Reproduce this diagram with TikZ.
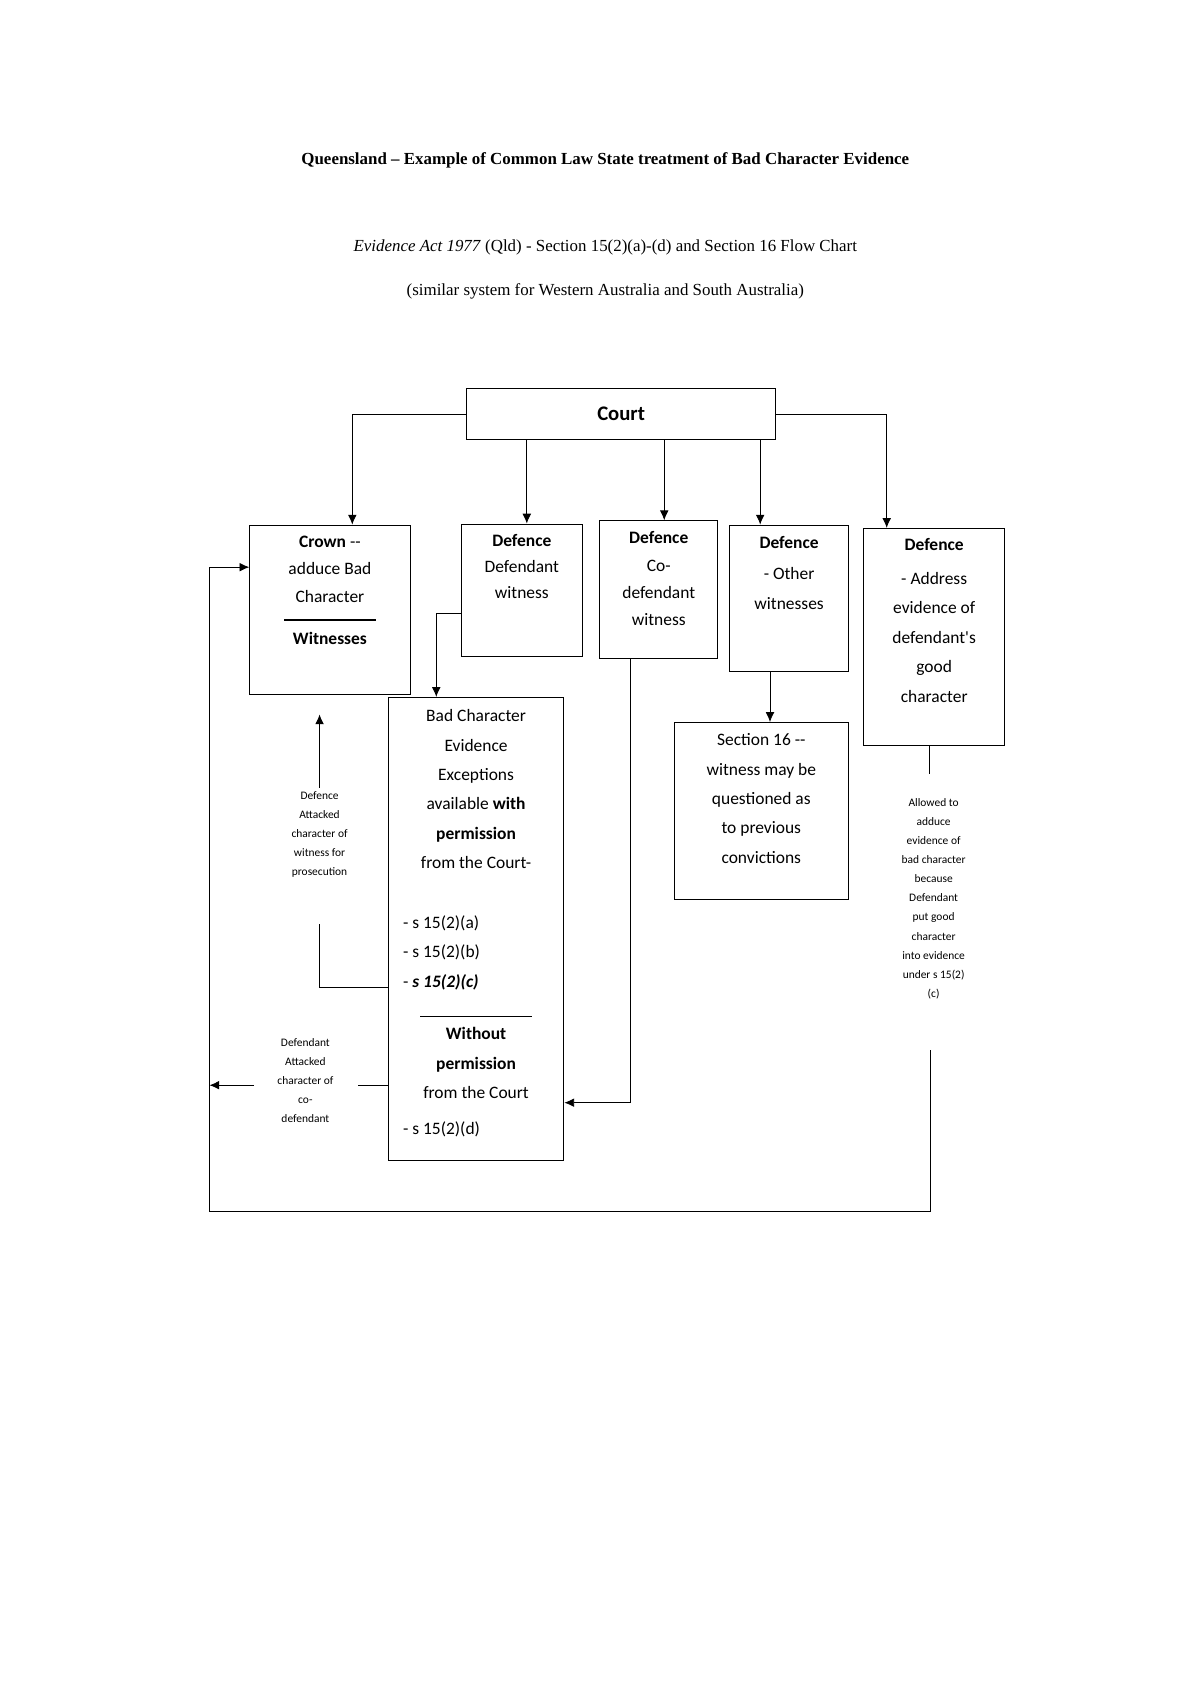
\documentclass[tikz,border=0pt]{standalone}
\usepackage{fontspec}
\setmainfont{Liberation Serif}
\newfontfamily\boxfont{Carlito}
\usetikzlibrary{arrows.meta}

\begin{document}
\begin{tikzpicture}[x=1pt,y=-1pt,
  box/.style={draw,thick,font=\boxfont\fontsize{16}{27}\selectfont,align=center,inner sep=0pt},
  note/.style={font=\boxfont\fontsize{10.5}{17.5}\selectfont,align=center},
  arr/.style={-{Latex[length=9,width=8]},thick},
  link/.style={thick}]
\useasboundingbox (0,0) rectangle (1100,1555);
% title lines
\node[font=\bfseries\fontsize{15.5}{18}\selectfont] (title) at (555,147) {Queensland -- Example of Common Law State treatment of Bad Character Evidence};
\node[font=\fontsize{15.5}{18}\selectfont] (sub1) at (555,227) {\emph{Evidence Act 1977} (Qld) - Section 15(2)(a)-(d) and Section 16 Flow Chart};
\node[font=\fontsize{15.5}{18}\selectfont] (sub2) at (555,267) {(similar system for Western Australia and South Australia)};

% boxes
\node[box,minimum width=283,minimum height=47,font=\boxfont\bfseries\fontsize{19}{22}\selectfont] (court) at (569.5,379.5) {Court};
\node[box,minimum width=147,minimum height=155,anchor=north] (crown) at (302.5,481) {};
\node[font=\boxfont\fontsize{16}{25}\selectfont,align=center,anchor=north] (crownT) at (302.5,488) {\textbf{Crown} --\\adduce Bad\\Character\\[-8pt]\rule{84pt}{1.6pt}\\[-3pt]\textbf{Witnesses}};
\node[box,minimum width=111,minimum height=121,anchor=north] (defwit) at (478.5,480) {};
\node[font=\boxfont\fontsize{16}{24}\selectfont,align=center,anchor=north] (defwitT) at (478.5,486) {\textbf{Defence}\\Defendant\\witness};
\node[box,minimum width=108,minimum height=126,anchor=north] (codef) at (604,477) {};
\node[font=\boxfont\fontsize{16}{25}\selectfont,align=center,anchor=north] (codefT) at (604,484) {\textbf{Defence}\\Co-\\defendant\\witness};
\node[box,minimum width=109,minimum height=134,anchor=north] (other) at (723.5,481) {};
\node[font=\boxfont\fontsize{16}{27}\selectfont,align=center,anchor=north] (otherT) at (723.5,488) {\textbf{Defence}\\[2pt]- Other\\witnesses};
\node[box,minimum width=129,minimum height=199,anchor=north] (good) at (856.5,484) {};
\node[font=\boxfont\fontsize{16}{27}\selectfont,align=center,anchor=north] (goodT) at (856.5,490) {\textbf{Defence}\\[4pt]- Address\\evidence of\\defendant's\\good\\character};
\node[box,minimum width=161,minimum height=425,anchor=north] (bad) at (436.5,639) {};
\node[font=\boxfont\fontsize{16}{27}\selectfont,align=center,anchor=north] (badT) at (436.5,647) {Bad Character\\Evidence\\Exceptions\\available \textbf{with}\\\textbf{permission}\\from the Court-};
\node[font=\boxfont\fontsize{16}{27}\selectfont,align=left,anchor=north west] (badL) at (366,836) {- s 15(2)(a)\\- s 15(2)(b)\\- \textbf{\textit{s 15(2)(c)}}};
\node[font=\boxfont\fontsize{16}{27}\selectfont,align=center,anchor=north] (badW) at (436.5,928) {\rule{102pt}{0.8pt}\\[-6pt]\textbf{Without}\\\textbf{permission}\\from the Court};
\node[font=\boxfont\fontsize{16}{27}\selectfont,anchor=north west] (badD) at (366,1025) {- s 15(2)(d)};
\node[box,minimum width=160,minimum height=162,anchor=north] (sec16) at (698,662) {};
\node[font=\boxfont\fontsize{16}{27}\selectfont,align=center,anchor=north] (sec16T) at (698,669) {Section 16 --\\witness may be\\questioned as\\to previous\\convictions};

% small labels
\node[note] (attW) at (293,765) {Defence\\Attacked\\character of\\witness for\\prosecution};
\node[note] (attC) at (280,991) {Defendant\\Attacked\\character of\\co-\\defendant};
\node[note] (allow) at (856,824) {Allowed to\\adduce\\evidence of\\bad character\\because\\Defendant\\put good\\character\\into evidence\\under s 15(2)\\(c)};

% connectors
\draw[arr] (court.west |- 0,380) -| (crown.north -| 323,0);
\draw[arr] (court.south -| 483,0) -- (defwit.north -| 483,0);
\draw[arr] (court.south -| 609,0) -- (codef.north -| 609,0);
\draw[arr] (court.south -| 697,0) -- (other.north -| 697,0);
\draw[arr] (court.east |- 0,380) -| (good.north -| 813,0);
\draw[arr] (defwit.west |- 0,562) -| (bad.north -| 400,0);
\draw[arr] (codef.south -| 578,0) |- (bad.east |- 0,1011);
\draw[arr] (other.south -| 706,0) -- (sec16.north -| 706,0);
\coordinate (wtop) at (293,847);
\draw[link] (bad.west |- 0,905) -| (wtop);
\draw[arr] (attW.north) -- (293,655);
\coordinate (cleft) at (192,995);
\draw[link] (bad.west |- 0,995) -- (328,995);
\draw[arr] (233,995) -- (cleft);
\draw[link] (good.south -| 852,0) -- (852,710);
\coordinate (loopA) at (853,963);
\coordinate (loopB) at (192,1111);
\draw[arr] (loopA) |- (loopB) |- (crown.west |- 0,520);
\end{tikzpicture}
\end{document}
